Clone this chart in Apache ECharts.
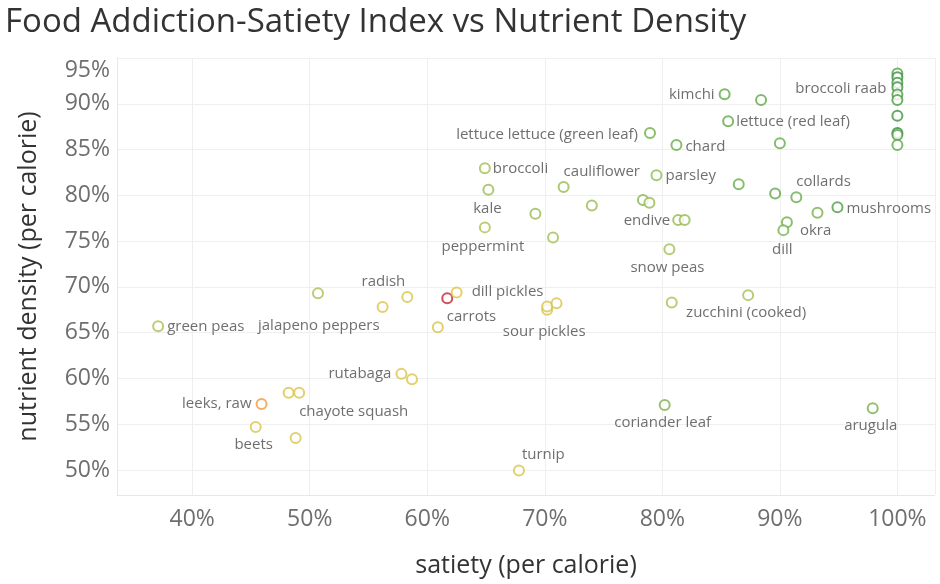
<!DOCTYPE html>
<html>
<head>
<meta charset="utf-8">
<script src="https://cdn.jsdelivr.net/npm/echarts@6/dist/echarts.min.js"></script>
<style>html,body{margin:0;padding:0;background:#fff}#c{width:940px;height:584px}</style>
</head>
<body>
<div id="c"></div>
<script>
// ---- data ----
const names = [
  'green peas','','jalapeno peppers','radish','','dill pickles','carrots','rutabaga','','',
  'chayote squash','leeks, raw','beets','','turnip','sour pickles','','','','zucchini (cooked)',
  'coriander leaf','arugula','broccoli','kale','peppermint','','','cauliflower','','',
  '','parsley','lettuce lettuce (green leaf)','chard','endive','','snow peas','kimchi','','lettuce (red leaf)',
  '','','','collards','','mushrooms','okra','dill',
  '','','','broccoli raab','','','','','',''
];
const satiety = [
  37.1,50.7,56.2,58.3,61.7,62.5,60.9,57.8,58.7,48.2,
  49.1,45.9,45.4,48.8,67.8,70.2,70.2,71.0,80.8,87.3,
  80.2,97.9,64.9,65.2,64.9,69.2,70.7,71.6,74.0,78.35,
  78.9,79.5,78.95,81.2,81.35,81.9,80.6,85.3,88.4,85.6,
  90.0,86.5,89.6,91.4,93.2,94.9,90.6,90.3,
  100,100,100,100,100,100,100,100,100,100
];
const density = [
  65.7,69.3,67.8,68.9,68.75,69.4,65.6,60.5,59.9,58.45,
  58.45,57.2,54.7,53.5,49.95,67.5,67.85,68.2,68.3,69.1,
  57.1,56.75,82.95,80.6,76.5,78.0,75.4,80.9,78.9,79.5,
  79.2,82.2,86.8,85.5,77.3,77.3,74.1,91.05,90.4,88.1,
  85.7,81.2,80.2,79.8,78.1,78.7,77.05,76.2,
  93.3,92.9,92.3,91.8,91.0,90.4,88.7,86.8,86.6,85.5
];
const addictionScore = [
  60,60,40,40,0,40,40,40,40,40,
  40,20,40,40,40,42,42,42,60,62,
  72,74,62,64,58,64,62,66,64,70,
  66,66,76,78,66,66,62,80,80,80,
  78,78,80,78,74,86,76,74,
  85,96,90,92,88,88,92,98,85,80
];
const xTicks = [40,50,60,70,80,90,100];
const yTicks = [50,55,60,65,70,75,80,85,90,95];

// ---- label placement relative to the point centre (style, not data) ----
const labelPlace = {
  'green peas':[9,0,'left'],
  'jalapeno peppers':[-3,19,'right'],
  'radish':[-2,-15,'right'],
  'dill pickles':[15,-1,'left'],
  'carrots':[9,-10,'left'],
  'rutabaga':[-10,0,'right'],
  'chayote squash':[0,19,'left'],
  'leeks, raw':[-10,0,'right'],
  'beets':[-2,18,'center'],
  'turnip':[3,-16,'left'],
  'sour pickles':[-3,22,'center'],
  'zucchini (cooked)':[-2,18,'center'],
  'coriander leaf':[-2,18,'center'],
  'arugula':[-2,18,'center'],
  'broccoli':[8,0,'left'],
  'kale':[-1,19,'center'],
  'peppermint':[-2,19,'center'],
  'cauliflower':[0,-15,'left'],
  'parsley':[9,1,'left'],
  'lettuce lettuce (green leaf)':[-12,2,'right'],
  'chard':[9,2,'left'],
  'endive':[-8,1,'right'],
  'snow peas':[-2,18,'center'],
  'kimchi':[-10,1,'right'],
  'lettuce (red leaf)':[8,1,'left'],
  'collards':[0,-15,'left'],
  'mushrooms':[9,1,'left'],
  'okra':[13,8,'left'],
  'dill':[-1,20,'center'],
  'broccoli raab':[-11,1,'right']
};

const FONT = 'Open Sans';
const pts = names.map((n,i) => {
  const d = {name:n, value:[satiety[i], density[i], addictionScore[i]]};
  if (n && labelPlace[n]) d.label = {show:true, formatter:'{b}'};
  return d;
});

const chart = echarts.init(document.getElementById('c'), null, {renderer:'canvas'});
chart.setOption({
  backgroundColor:'#fff',
  animation:false,
  title:{
    text:'Food Addiction-Satiety Index vs Nutrient Density',
    left:0, top:1,
    textStyle:{fontFamily:FONT, fontSize:33, fontWeight:'normal', color:'#333'}
  },
  grid:{left:117, right:5, top:58, bottom:89, containLabel:false, outerBoundsMode:'none'},
  visualMap:{
    show:false, type:'continuous', min:0, max:100, dimension:2, seriesIndex:0,
    inRange:{color:['#c8202f','#f09a3c','#d9c447','#a9c152','#5fa847','#2a8538']}
  },
  xAxis:{
    type:'value', min:33.6, max:103.2, splitNumber:6,
    name:'satiety (per calorie)', nameLocation:'middle', nameGap:58,
    nameTextStyle:{fontFamily:FONT, fontSize:25, color:'#333'},
    axisLine:{show:true, lineStyle:{color:'#e6e6e6', type:'dotted'}},
    axisTick:{show:false},
    axisLabel:{fontFamily:FONT, fontSize:23, color:'#6e6e6e', margin:13,
      showMinLabel:false, showMaxLabel:false,
      formatter: v => xTicks.includes(v) ? v + '%' : ''},
    splitLine:{show:true, lineStyle:{color:'#efefef', width:1}}
  },
  yAxis:{
    type:'value', min:47.27, max:95, splitNumber:10,
    name:'nutrient density (per calorie)', nameLocation:'middle', nameGap:76, nameRotate:90,
    nameTextStyle:{fontFamily:FONT, fontSize:25, color:'#333'},
    axisLine:{show:true, lineStyle:{color:'#e6e6e6', type:'dotted'}},
    axisTick:{show:false},
    axisLabel:{fontFamily:FONT, fontSize:23, color:'#6e6e6e', margin:7,
      showMinLabel:false, showMaxLabel:true,
      formatter: v => !yTicks.includes(v) ? '' : (v === 95 ? '{t|' + v + '%}' : v + '%'),
      rich:{t:{fontFamily:FONT, fontSize:23, color:'#6e6e6e', padding:[24,0,0,0]}}},
    splitLine:{show:true, lineStyle:{color:'#efefef', width:1}}
  },
  series:[{
    type:'scatter',
    symbol:'emptyCircle',
    symbolSize:10,
    itemStyle:{borderWidth:2},
    label:{show:false, fontFamily:FONT, fontSize:15, color:'#4a4a4a'},
    labelLayout: function (p) {
      const n = names[p.dataIndex];
      const pl = labelPlace[n];
      if (!pl) return {};
      const cx = p.rect.x + p.rect.width / 2;
      const cy = p.rect.y + p.rect.height / 2;
      return {x: cx + pl[0], y: cy + pl[1], align: pl[2], verticalAlign: 'middle', hideOverlap:false};
    },
    data:pts
  }]
});
</script>
</body>
</html>
